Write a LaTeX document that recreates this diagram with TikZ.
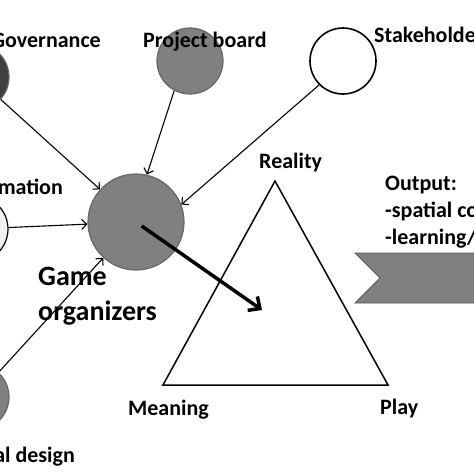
\documentclass[tikz,border=0pt]{standalone}
\usepackage{fontspec}
\setmainfont{Carlito}
\usetikzlibrary{arrows.meta}
\definecolor{midgray}{HTML}{808080}
\definecolor{deepgray}{HTML}{3F3F3F}
\definecolor{palegray}{HTML}{F0F0F0}

\begin{document}
\begin{tikzpicture}[x=1pt,y=-1pt,
    actor/.style={circle, minimum size=66pt, inner sep=0pt, line width=1.2pt},
    link/.style={-{Straight Barb[length=5pt,width=10pt]}, line width=1.1pt},
    lbl/.style={font=\bfseries\fontsize{22}{27}\selectfont, inner sep=0pt}]
    \useasboundingbox (0,0) rectangle (474,474);
    \clip (0,0) rectangle (474,474);
    \node[actor, fill=deepgray, draw=black!60] (gov) at (-24,77) {};
    \node[actor, fill=midgray, draw=black!60] (board) at (190,61) {};
    \node[actor, fill=white, draw=black, line width=1.6pt] (stake) at (343,61) {};
    \node[actor, fill=palegray, draw=black] (info) at (-25,229) {};
    \node[actor, fill=midgray, draw=black!60] (spatial) at (-24,397) {};
    \node[actor, fill=midgray, draw=black!60, minimum size=96pt] (game) at (136,222) {};
    \draw[link] (gov) -- (game);
    \draw[link] (board.242) -- (game.77);
    \draw[link] (stake.225) -- (game.21);
    \draw[link] (info) -- (game);
    \draw[link] (spatial) -- (game);
    \draw[line width=1.5pt, line join=miter] (275,181) -- (388,385) -- (163,385) -- cycle;
    \coordinate (aim) at (262,310);
    \draw[-{Straight Barb[length=9pt,width=17pt]}, line width=3.5pt, shorten <=7pt] (game.center) -- (aim);
    \draw[fill=midgray, draw=black!65, line width=0.8pt] (355,253) -- (480,253) -- (480,303) -- (355,303) -- (380,278) -- cycle;
    \node[lbl, anchor=base east] (govtext) at (101,47) {Governance};
    \node[lbl, anchor=base west] (boardtext) at (143,47) {Project board};
    \node[lbl, anchor=base west] (staketext) at (374,42) {Stakeholders};
    \node[lbl, anchor=base east] (infotext) at (63,194) {Information};
    \node[lbl, anchor=base east] (spatialtext) at (75,462) {Spatial design};
    \node[lbl, anchor=base west] (realitytext) at (259,168) {Reality};
    \node[lbl, anchor=base west] (meaningtext) at (128,415) {Meaning};
    \node[lbl, anchor=base west] (playtext) at (380,414) {Play};
    \node[lbl, anchor=north west, align=left] (outputtext) at (385,176) {Output:\\-spatial concepts\\-learning/insight};
    \node[lbl, anchor=north west, align=left, font=\bfseries\fontsize{28}{35}\selectfont] (gametext) at (38,267) {Game\\organizers};
\end{tikzpicture}
\end{document}
